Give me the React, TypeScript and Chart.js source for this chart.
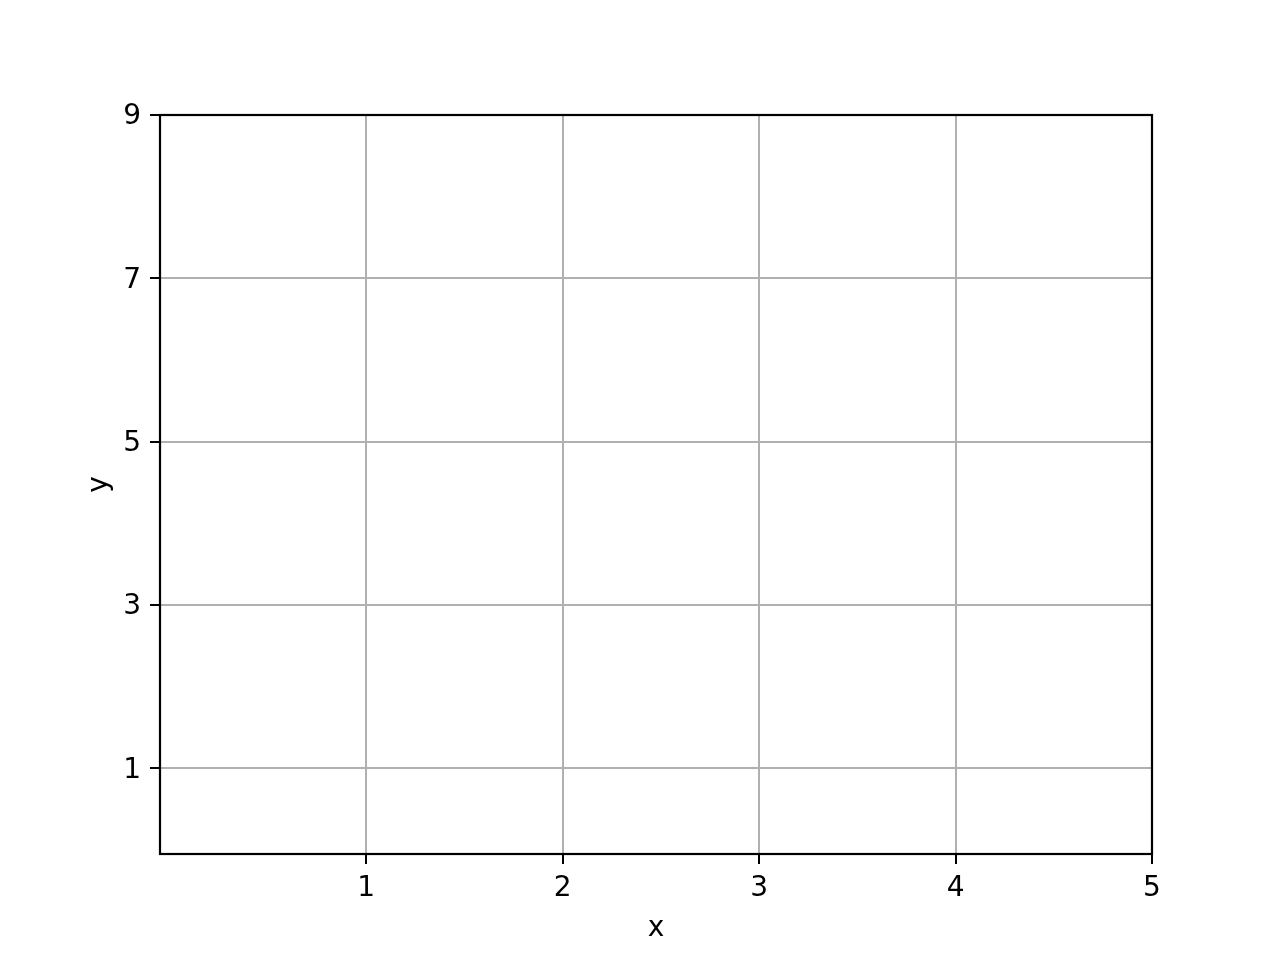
import React, { useEffect, useRef } from "react";
import { Chart, registerables } from "chart.js";

Chart.register(...registerables);

const xTicks = [1, 2, 3, 4, 5];
const yTicks = [1, 3, 5, 7, 9];
const xRange = [-0.05, 5];
const yRange = [-0.05, 9];
const xLabel = "x";
const yLabel = "y";
const points: { x: number; y: number }[] = [];

const FONT = "'DejaVu Sans', sans-serif";

const framePlugin = {
  id: "frame",
  afterDraw(chart: any) {
    const { ctx, chartArea } = chart;
    ctx.save();
    ctx.strokeStyle = "#000";
    ctx.lineWidth = 2.2;
    ctx.strokeRect(
      chartArea.left,
      chartArea.top,
      chartArea.right - chartArea.left,
      chartArea.bottom - chartArea.top
    );
    ctx.restore();
  },
};

export default function App() {
  const ref = useRef<HTMLCanvasElement>(null);
  useEffect(() => {
    document.body.style.margin = "0";
    const chart = new Chart(ref.current!, {
      type: "scatter",
      data: { datasets: [{ data: points }] },
      plugins: [framePlugin],
      options: {
        animation: false,
        responsive: false,
        devicePixelRatio: 1,
        layout: { padding: { top: 115, right: 128, left: 0, bottom: 0 } },
        plugins: { legend: { display: false }, tooltip: { enabled: false } },
        scales: {
          x: {
            type: "linear",
            min: xRange[0],
            max: xRange[1],
            afterBuildTicks: (s: any) => {
              s.ticks = xTicks.map((v) => ({ value: v }));
            },
            afterFit: (s: any) => {
              s.height = 106;
            },
            grid: {
              color: "#b0b0b0",
              lineWidth: 2,
              tickColor: "#000",
              tickLength: 10,
              tickWidth: 2,
            },
            border: { display: false },
            ticks: {
              color: "#000",
              font: { family: FONT, size: 28 },
              padding: 8,
              maxRotation: 0,
              autoSkip: false,
            },
            title: {
              display: true,
              text: xLabel,
              color: "#000",
              font: { family: FONT, size: 28 },
              padding: { top: 0, bottom: 14 },
            },
          },
          y: {
            type: "linear",
            min: yRange[0],
            max: yRange[1],
            afterBuildTicks: (s: any) => {
              s.ticks = yTicks.map((v) => ({ value: v }));
            },
            afterFit: (s: any) => {
              s.width = 160;
            },
            grid: {
              color: "#b0b0b0",
              lineWidth: 2,
              tickColor: "#000",
              tickLength: 10,
              tickWidth: 2,
            },
            border: { display: false },
            ticks: {
              color: "#000",
              font: { family: FONT, size: 28 },
              padding: 9,
              labelOffset: 2,
              autoSkip: false,
            },
            title: {
              display: true,
              text: yLabel,
              color: "#000",
              font: { family: FONT, size: 28 },
              padding: { top: 83, bottom: 0 },
            },
          },
        },
      },
    });
    return () => chart.destroy();
  }, []);
  return (
    <div style={{ width: 1280, height: 960, background: "#fff" }}>
      <canvas ref={ref} width={1280} height={960} style={{ width: 1280, height: 960 }} />
    </div>
  );
}
